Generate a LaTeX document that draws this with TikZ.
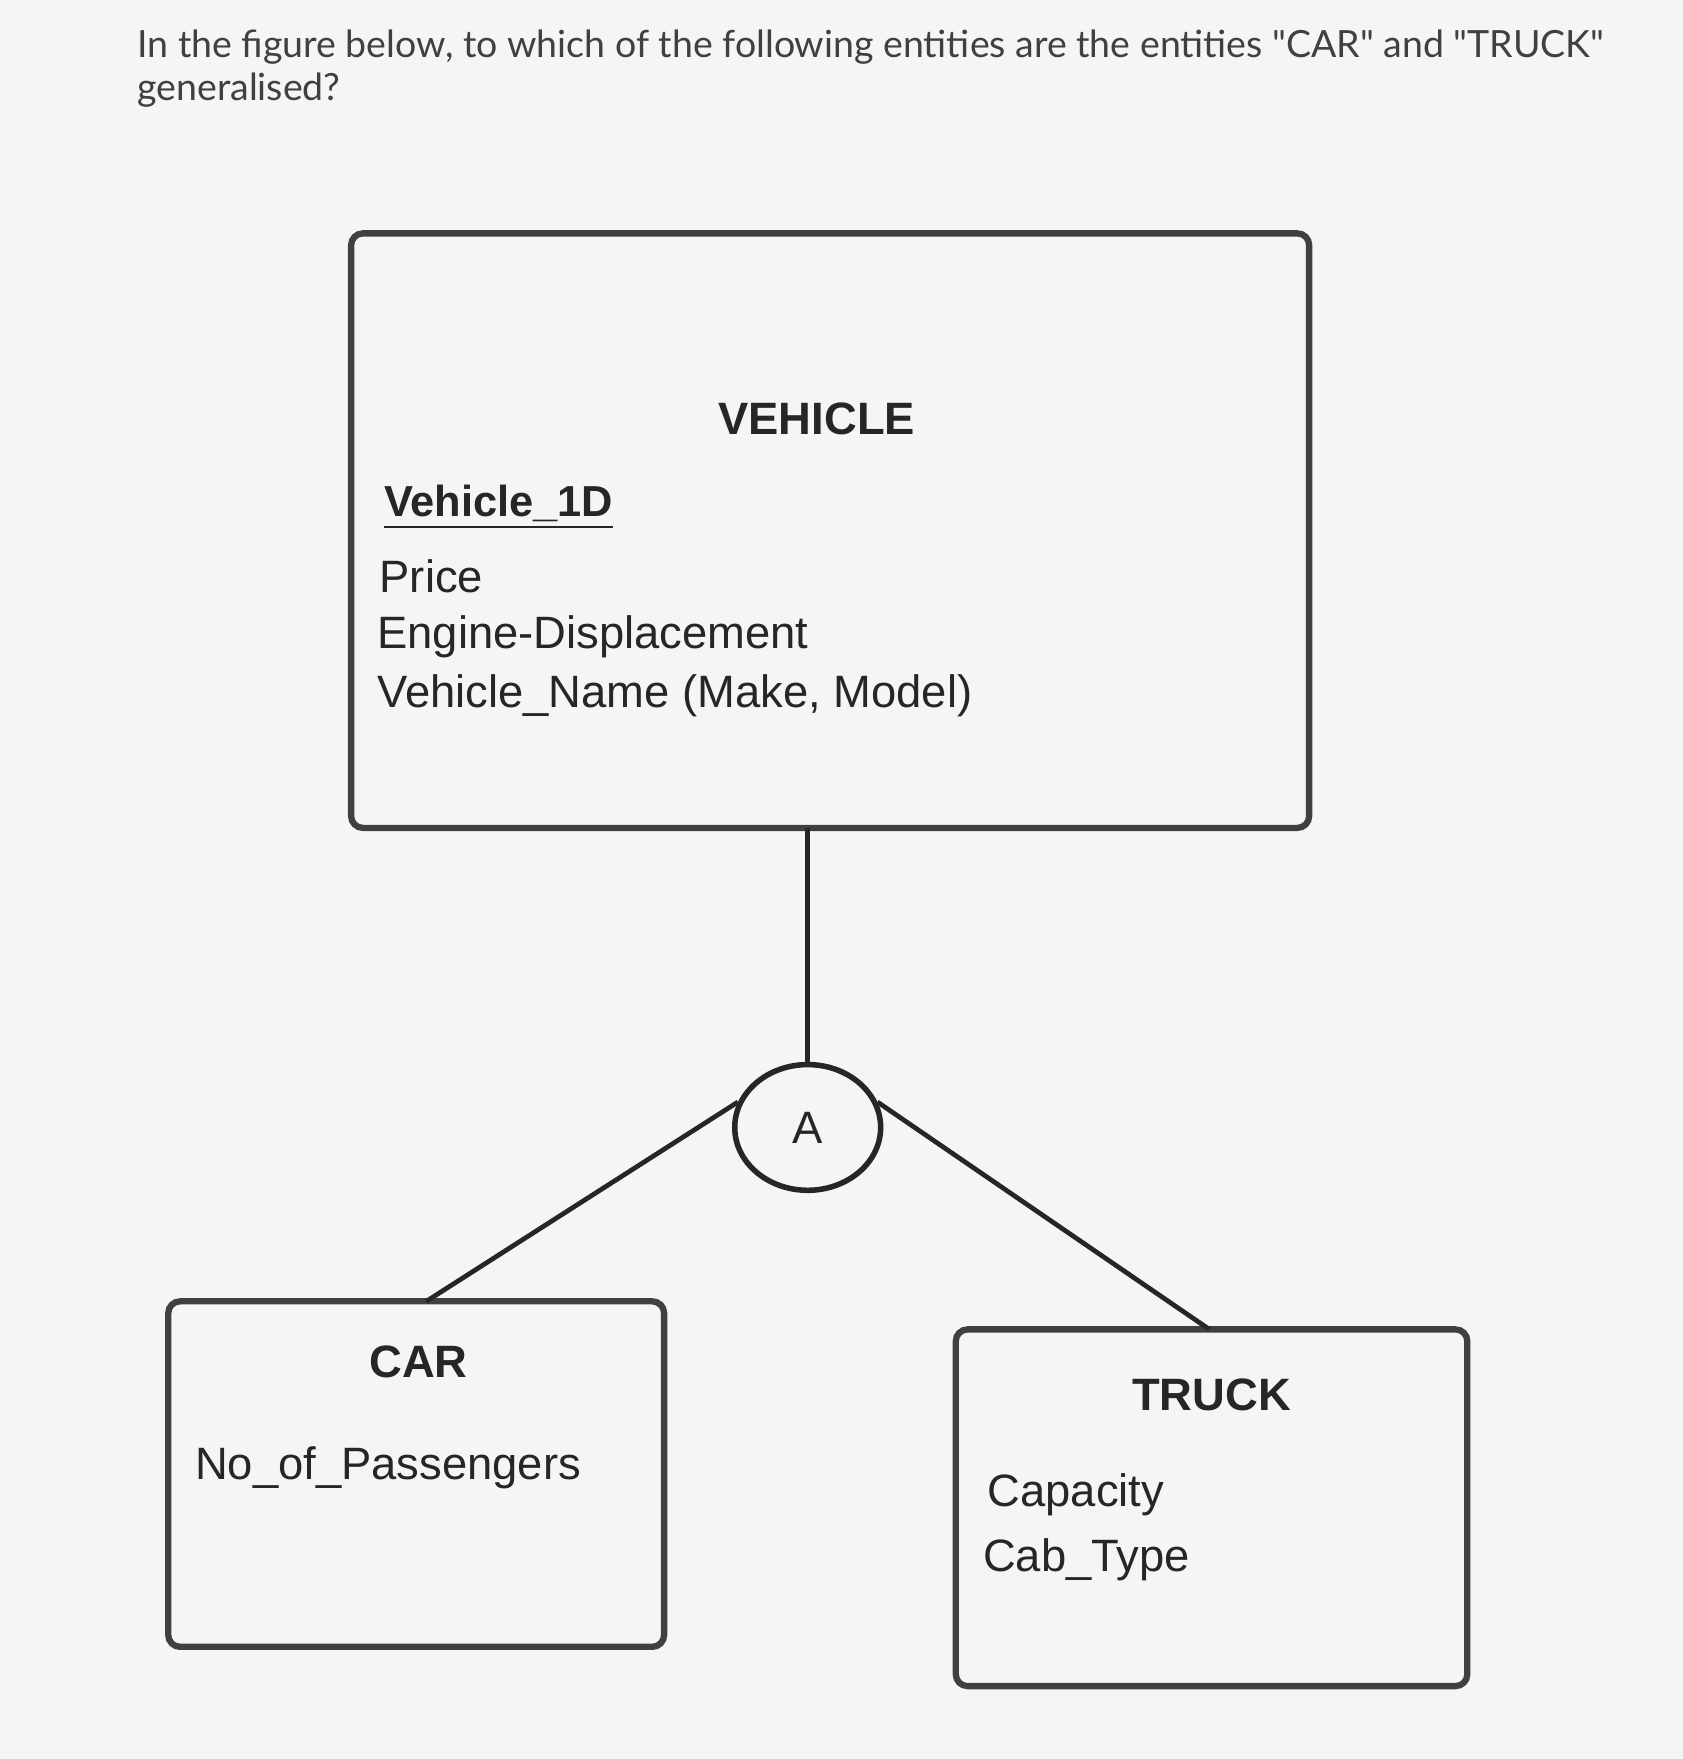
\documentclass[tikz,border=0pt]{standalone}
\usepackage{fontspec}
\usetikzlibrary{shapes.geometric}
\setmainfont{Liberation Sans}
\newfontfamily\qfont{Lato}
\begin{document}
\begin{tikzpicture}[x=0.01cm,y=-0.01cm,
  ent/.style={draw=black!75,line width=1.6pt,rounded corners=3pt},
  conn/.style={draw=black!85,line width=1.2pt},
  lbl/.style={font=\fontsize{11.5}{13}\selectfont,text=black!85},
  qt/.style={font=\qfont\fontsize{9.5}{12}\selectfont,text=black!75,anchor=west}]
\fill[black!4] (0,0) rectangle (1500,1568);
\useasboundingbox (0,0) rectangle (1500,1568);
\node[qt] (q1) at (110,42) {In the figure below, to which of the following entities are the entities "CAR" and "TRUCK"};
\node[qt] (q2) at (110,80) {generalised?};
\draw[ent] (313,208) rectangle (1167,738);
\node[lbl,font=\bfseries\fontsize{11.5}{13}\selectfont] (vt) at (728,373) {VEHICLE};
\node[lbl,anchor=west,font=\bfseries\fontsize{11}{13}\selectfont] (vid) at (330,452) {\underline{Vehicle\_1D}};
\node[lbl,anchor=west] (pr) at (326,514) {Price};
\node[lbl,anchor=west] (ed) at (324,568) {Engine-Displacement};
\node[lbl,anchor=west] (vn) at (324,620) {Vehicle\_Name (Make, Model)};
\node[draw=black!85,line width=1.4pt,ellipse,minimum width=1.3cm,minimum height=1.12cm,inner sep=0pt,lbl] (a) at (720,1005) {A};
\coordinate (vb) at (720,738);
\draw[ent] (150,1160) rectangle (592,1468);
\coordinate (ct) at (380,1160);
\node[lbl,font=\bfseries\fontsize{11.5}{13}\selectfont] (car) at (373,1214) {CAR};
\node[lbl] (np) at (346,1308) {No\_of\_Passengers};
\draw[ent] (852,1185) rectangle (1308,1503);
\coordinate (tt) at (1078,1185);
\node[lbl,font=\bfseries\fontsize{11.5}{13}\selectfont] (tr) at (1080,1243) {TRUCK};
\node[lbl,anchor=west] (cp) at (868,1332) {Capacity};
\node[lbl,anchor=west] (cb) at (864,1390) {Cab\_Type};
\draw[conn] (vb) -- (a.north);
\draw[conn] (a.160) -- (ct);
\draw[conn] (a.20) -- (tt);
\end{tikzpicture}
\end{document}
